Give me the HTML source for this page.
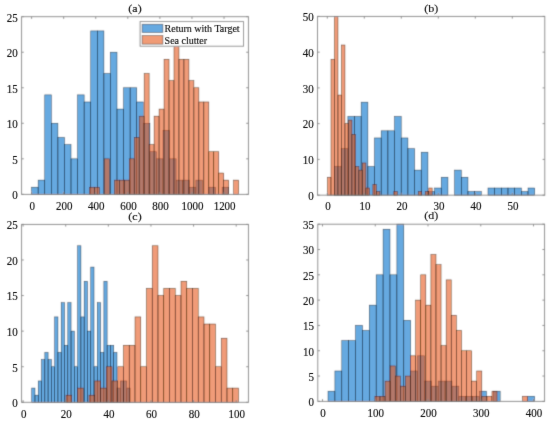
<!DOCTYPE html><html><head><meta charset="utf-8"><style>html,body{margin:0;padding:0;background:#fff;width:550px;height:422px;overflow:hidden}svg{display:block}text{font-family:"Liberation Serif",serif;fill:#111;stroke:#111;stroke-width:0.15}</style></head><body>
<svg width="550" height="422" viewBox="0 0 550 422"><defs><filter id="bl" x="0" y="0" width="550" height="422" filterUnits="userSpaceOnUse"><feConvolveMatrix order="3" kernelMatrix="0.025 0.1 0.025 0.1 0.5 0.1 0.025 0.1 0.025" edgeMode="duplicate" preserveAlpha="false"/></filter><filter id="bt" x="0" y="0" width="550" height="422" filterUnits="userSpaceOnUse"><feConvolveMatrix order="3" kernelMatrix="0.01 0.04 0.01 0.04 0.8 0.04 0.01 0.04 0.01" edgeMode="duplicate" preserveAlpha="false"/></filter></defs><rect width="550" height="422" fill="#fff"/><g filter="url(#bl)">
<g fill="#0070CC" fill-opacity="0.6" stroke="#000" stroke-opacity="0.6" stroke-width="0.6"><rect x="31.6" y="187.24" width="6.57" height="7.11"/><rect x="38.17" y="180.14" width="6.57" height="14.21"/><rect x="44.74" y="94.87" width="6.57" height="99.48"/><rect x="51.31" y="123.29" width="6.57" height="71.06"/><rect x="57.88" y="137.5" width="6.57" height="56.85"/><rect x="64.45" y="144.61" width="6.57" height="49.74"/><rect x="71.02" y="158.82" width="6.57" height="35.53"/><rect x="77.59" y="94.87" width="6.57" height="99.48"/><rect x="84.16" y="101.97" width="6.57" height="92.38"/><rect x="90.73" y="30.91" width="6.57" height="163.44"/><rect x="97.3" y="30.91" width="6.57" height="163.44"/><rect x="103.87" y="73.55" width="6.57" height="120.8"/><rect x="110.44" y="52.23" width="6.57" height="142.12"/><rect x="117.01" y="109.08" width="6.57" height="85.27"/><rect x="123.58" y="87.76" width="6.57" height="106.59"/><rect x="130.15" y="87.76" width="6.57" height="106.59"/><rect x="136.72" y="101.97" width="6.57" height="92.38"/><rect x="143.29" y="123.29" width="6.57" height="71.06"/><rect x="149.86" y="151.71" width="6.57" height="42.64"/><rect x="156.43" y="158.82" width="6.57" height="35.53"/><rect x="163" y="130.4" width="6.57" height="63.95"/><rect x="169.57" y="158.82" width="6.57" height="35.53"/><rect x="176.14" y="180.14" width="6.57" height="14.21"/><rect x="182.71" y="180.14" width="6.57" height="14.21"/><rect x="189.28" y="187.24" width="6.57" height="7.11"/><rect x="195.85" y="180.14" width="6.57" height="14.21"/><rect x="208.99" y="187.24" width="6.57" height="7.11"/><rect x="222.13" y="187.24" width="6.57" height="7.11"/></g>
<g fill="#E6581A" fill-opacity="0.6" stroke="#000" stroke-opacity="0.6" stroke-width="0.6"><rect x="89.5" y="187.24" width="4.97" height="7.11"/><rect x="94.47" y="187.24" width="4.97" height="7.11"/><rect x="104.41" y="158.82" width="4.97" height="35.53"/><rect x="114.35" y="180.14" width="4.97" height="14.21"/><rect x="119.32" y="180.14" width="4.97" height="14.21"/><rect x="124.29" y="180.14" width="4.97" height="14.21"/><rect x="129.26" y="158.82" width="4.97" height="35.53"/><rect x="134.23" y="137.5" width="4.97" height="56.85"/><rect x="139.2" y="116.18" width="4.97" height="78.17"/><rect x="144.17" y="73.55" width="4.97" height="120.8"/><rect x="149.14" y="144.61" width="4.97" height="49.74"/><rect x="154.11" y="116.18" width="4.97" height="78.17"/><rect x="159.08" y="109.08" width="4.97" height="85.27"/><rect x="164.05" y="59.34" width="4.97" height="135.01"/><rect x="169.02" y="80.65" width="4.97" height="113.7"/><rect x="173.99" y="45.12" width="4.97" height="149.23"/><rect x="178.96" y="59.34" width="4.97" height="135.01"/><rect x="183.93" y="59.34" width="4.97" height="135.01"/><rect x="188.9" y="80.65" width="4.97" height="113.7"/><rect x="193.87" y="87.76" width="4.97" height="106.59"/><rect x="198.84" y="101.97" width="4.97" height="92.38"/><rect x="203.81" y="101.97" width="4.97" height="92.38"/><rect x="208.78" y="151.71" width="4.97" height="42.64"/><rect x="213.75" y="151.71" width="4.97" height="42.64"/><rect x="218.72" y="173.03" width="4.97" height="21.32"/><rect x="223.69" y="180.14" width="4.97" height="14.21"/><rect x="233.63" y="180.14" width="4.97" height="14.21"/></g>
<rect x="21.6" y="16.7" width="226.8" height="177.65" fill="none" stroke="#888" stroke-width="0.9"/>
<path d="M31.6 194.35v-2.2M31.6 16.7v2.2M63.67 194.35v-2.2M63.67 16.7v2.2M95.74 194.35v-2.2M95.74 16.7v2.2M127.81 194.35v-2.2M127.81 16.7v2.2M159.88 194.35v-2.2M159.88 16.7v2.2M191.95 194.35v-2.2M191.95 16.7v2.2M224.02 194.35v-2.2M224.02 16.7v2.2M21.6 194.35h2.2M248.4 194.35h-2.2M21.6 158.82h2.2M248.4 158.82h-2.2M21.6 123.29h2.2M248.4 123.29h-2.2M21.6 87.76h2.2M248.4 87.76h-2.2M21.6 52.23h2.2M248.4 52.23h-2.2M21.6 16.7h2.2M248.4 16.7h-2.2" stroke="#888" stroke-width="0.9" fill="none"/>
<g fill="#0070CC" fill-opacity="0.6" stroke="#000" stroke-opacity="0.6" stroke-width="0.6"><rect x="334.5" y="166.55" width="6.67" height="28.6"/><rect x="341.17" y="148.68" width="6.67" height="46.48"/><rect x="347.85" y="116.5" width="6.67" height="78.65"/><rect x="354.52" y="116.5" width="6.67" height="78.65"/><rect x="361.19" y="102.2" width="6.67" height="92.95"/><rect x="367.87" y="166.55" width="6.67" height="28.6"/><rect x="374.54" y="137.95" width="6.67" height="57.2"/><rect x="381.21" y="130.8" width="6.67" height="64.35"/><rect x="387.88" y="130.8" width="6.67" height="64.35"/><rect x="394.56" y="116.5" width="6.67" height="78.65"/><rect x="401.23" y="137.95" width="6.67" height="57.2"/><rect x="407.9" y="148.68" width="6.67" height="46.48"/><rect x="414.58" y="170.12" width="6.67" height="25.03"/><rect x="421.25" y="152.25" width="6.67" height="42.9"/><rect x="427.92" y="191.58" width="6.67" height="3.58"/><rect x="434.6" y="188" width="6.67" height="7.15"/><rect x="441.27" y="177.28" width="6.67" height="17.88"/><rect x="454.61" y="170.12" width="6.67" height="25.03"/><rect x="461.29" y="177.28" width="6.67" height="17.88"/><rect x="467.96" y="191.58" width="6.67" height="3.58"/><rect x="474.63" y="191.58" width="6.67" height="3.58"/><rect x="487.98" y="188" width="6.67" height="7.15"/><rect x="494.65" y="188" width="6.67" height="7.15"/><rect x="501.32" y="188" width="6.67" height="7.15"/><rect x="508" y="188" width="6.67" height="7.15"/><rect x="514.67" y="188" width="6.67" height="7.15"/><rect x="521.34" y="191.58" width="6.67" height="3.58"/><rect x="528.02" y="188" width="6.67" height="7.15"/></g>
<g fill="#E6581A" fill-opacity="0.6" stroke="#000" stroke-opacity="0.6" stroke-width="0.6"><rect x="327.5" y="177.28" width="3.49" height="17.88"/><rect x="330.99" y="59.3" width="3.49" height="135.85"/><rect x="334.48" y="16.4" width="3.49" height="178.75"/><rect x="337.97" y="95.05" width="3.49" height="100.1"/><rect x="341.46" y="45" width="3.49" height="150.15"/><rect x="344.95" y="123.65" width="3.49" height="71.5"/><rect x="348.44" y="120.08" width="3.49" height="75.08"/><rect x="351.93" y="134.38" width="3.49" height="60.78"/><rect x="355.42" y="166.55" width="3.49" height="28.6"/><rect x="358.91" y="170.12" width="3.49" height="25.03"/><rect x="362.4" y="162.97" width="3.49" height="32.18"/><rect x="365.89" y="188" width="3.49" height="7.15"/><rect x="372.87" y="184.43" width="3.49" height="10.73"/><rect x="376.36" y="191.58" width="3.49" height="3.58"/><rect x="393.81" y="191.58" width="3.49" height="3.58"/><rect x="418.24" y="191.58" width="3.49" height="3.58"/><rect x="425.22" y="191.58" width="3.49" height="3.58"/><rect x="428.71" y="188" width="3.49" height="7.15"/></g>
<rect x="317.5" y="16.4" width="227.3" height="178.75" fill="none" stroke="#888" stroke-width="0.9"/>
<path d="M327.3 195.15v-2.2M327.3 16.4v2.2M364.3 195.15v-2.2M364.3 16.4v2.2M401.3 195.15v-2.2M401.3 16.4v2.2M438.3 195.15v-2.2M438.3 16.4v2.2M475.3 195.15v-2.2M475.3 16.4v2.2M512.3 195.15v-2.2M512.3 16.4v2.2M317.5 195.15h2.2M544.8 195.15h-2.2M317.5 159.4h2.2M544.8 159.4h-2.2M317.5 123.65h2.2M544.8 123.65h-2.2M317.5 87.9h2.2M544.8 87.9h-2.2M317.5 52.15h2.2M544.8 52.15h-2.2M317.5 16.4h2.2M544.8 16.4h-2.2" stroke="#888" stroke-width="0.9" fill="none"/>
<g fill="#0070CC" fill-opacity="0.6" stroke="#000" stroke-opacity="0.6" stroke-width="0.6"><rect x="31.7" y="388.07" width="3.28" height="14.23"/><rect x="34.98" y="395.18" width="3.28" height="7.12"/><rect x="38.26" y="380.95" width="3.28" height="21.35"/><rect x="41.54" y="359.6" width="3.28" height="42.7"/><rect x="44.82" y="352.49" width="3.28" height="49.81"/><rect x="48.1" y="359.6" width="3.28" height="42.7"/><rect x="51.38" y="366.72" width="3.28" height="35.58"/><rect x="54.66" y="316.91" width="3.28" height="85.39"/><rect x="57.94" y="352.49" width="3.28" height="49.81"/><rect x="61.22" y="302.68" width="3.28" height="99.62"/><rect x="64.5" y="345.37" width="3.28" height="56.93"/><rect x="67.78" y="302.68" width="3.28" height="99.62"/><rect x="71.06" y="331.14" width="3.28" height="71.16"/><rect x="74.34" y="366.72" width="3.28" height="35.58"/><rect x="77.62" y="245.75" width="3.28" height="156.55"/><rect x="80.9" y="316.91" width="3.28" height="85.39"/><rect x="84.18" y="281.33" width="3.28" height="120.97"/><rect x="87.46" y="331.14" width="3.28" height="71.16"/><rect x="90.74" y="267.1" width="3.28" height="135.2"/><rect x="94.02" y="366.72" width="3.28" height="35.58"/><rect x="97.3" y="302.68" width="3.28" height="99.62"/><rect x="100.58" y="352.49" width="3.28" height="49.81"/><rect x="103.86" y="281.33" width="3.28" height="120.97"/><rect x="107.14" y="345.37" width="3.28" height="56.93"/><rect x="110.42" y="345.37" width="3.28" height="56.93"/><rect x="113.7" y="352.49" width="3.28" height="49.81"/><rect x="116.98" y="388.07" width="3.28" height="14.23"/><rect x="120.26" y="380.95" width="3.28" height="21.35"/><rect x="123.54" y="380.95" width="3.28" height="21.35"/><rect x="126.82" y="388.07" width="3.28" height="14.23"/></g>
<g fill="#E6581A" fill-opacity="0.6" stroke="#000" stroke-opacity="0.6" stroke-width="0.6"><rect x="66" y="395.18" width="5.75" height="7.12"/><rect x="77.5" y="388.07" width="5.75" height="14.23"/><rect x="89" y="395.18" width="5.75" height="7.12"/><rect x="94.75" y="380.95" width="5.75" height="21.35"/><rect x="100.5" y="388.07" width="5.75" height="14.23"/><rect x="106.25" y="366.72" width="5.75" height="35.58"/><rect x="112" y="380.95" width="5.75" height="21.35"/><rect x="117.75" y="366.72" width="5.75" height="35.58"/><rect x="123.5" y="345.37" width="5.75" height="56.93"/><rect x="129.25" y="345.37" width="5.75" height="56.93"/><rect x="135" y="316.91" width="5.75" height="85.39"/><rect x="140.75" y="366.72" width="5.75" height="35.58"/><rect x="146.5" y="288.44" width="5.75" height="113.86"/><rect x="152.25" y="245.75" width="5.75" height="156.55"/><rect x="158" y="295.56" width="5.75" height="106.74"/><rect x="163.75" y="288.44" width="5.75" height="113.86"/><rect x="169.5" y="288.44" width="5.75" height="113.86"/><rect x="175.25" y="295.56" width="5.75" height="106.74"/><rect x="181" y="281.33" width="5.75" height="120.97"/><rect x="186.75" y="288.44" width="5.75" height="113.86"/><rect x="192.5" y="288.44" width="5.75" height="113.86"/><rect x="198.25" y="316.91" width="5.75" height="85.39"/><rect x="204" y="324.02" width="5.75" height="78.28"/><rect x="209.75" y="324.02" width="5.75" height="78.28"/><rect x="215.5" y="366.72" width="5.75" height="35.58"/><rect x="221.25" y="338.26" width="5.75" height="64.04"/><rect x="227" y="388.07" width="5.75" height="14.23"/><rect x="232.75" y="388.07" width="5.75" height="14.23"/></g>
<rect x="21.6" y="224.4" width="226.8" height="177.9" fill="none" stroke="#888" stroke-width="0.9"/>
<path d="M23.1 402.3v-2.2M23.1 224.4v2.2M65.72 402.3v-2.2M65.72 224.4v2.2M108.34 402.3v-2.2M108.34 224.4v2.2M150.96 402.3v-2.2M150.96 224.4v2.2M193.58 402.3v-2.2M193.58 224.4v2.2M236.2 402.3v-2.2M236.2 224.4v2.2M21.6 402.3h2.2M248.4 402.3h-2.2M21.6 366.72h2.2M248.4 366.72h-2.2M21.6 331.14h2.2M248.4 331.14h-2.2M21.6 295.56h2.2M248.4 295.56h-2.2M21.6 259.98h2.2M248.4 259.98h-2.2M21.6 224.4h2.2M248.4 224.4h-2.2" stroke="#888" stroke-width="0.9" fill="none"/>
<g fill="#0070CC" fill-opacity="0.6" stroke="#000" stroke-opacity="0.6" stroke-width="0.6"><rect x="328" y="391.23" width="6.89" height="10.12"/><rect x="334.89" y="370.98" width="6.89" height="30.37"/><rect x="341.77" y="340.61" width="6.89" height="60.74"/><rect x="348.66" y="340.61" width="6.89" height="60.74"/><rect x="355.55" y="325.43" width="6.89" height="75.92"/><rect x="362.44" y="330.49" width="6.89" height="70.86"/><rect x="369.32" y="305.18" width="6.89" height="96.17"/><rect x="376.21" y="274.81" width="6.89" height="126.54"/><rect x="383.1" y="229.26" width="6.89" height="172.09"/><rect x="389.98" y="274.81" width="6.89" height="126.54"/><rect x="396.87" y="224.2" width="6.89" height="177.15"/><rect x="403.76" y="320.37" width="6.89" height="80.98"/><rect x="410.64" y="370.98" width="6.89" height="30.37"/><rect x="417.53" y="355.8" width="6.89" height="45.55"/><rect x="424.42" y="381.1" width="6.89" height="20.25"/><rect x="431.31" y="386.17" width="6.89" height="15.18"/><rect x="438.19" y="381.1" width="6.89" height="20.25"/><rect x="445.08" y="381.1" width="6.89" height="20.25"/><rect x="451.97" y="386.17" width="6.89" height="15.18"/><rect x="458.85" y="396.29" width="6.89" height="5.06"/><rect x="465.74" y="396.29" width="6.89" height="5.06"/><rect x="472.63" y="396.29" width="6.89" height="5.06"/><rect x="479.51" y="391.23" width="6.89" height="10.12"/><rect x="493.29" y="391.23" width="6.89" height="10.12"/><rect x="527.72" y="396.29" width="6.89" height="5.06"/></g>
<g fill="#E6581A" fill-opacity="0.6" stroke="#000" stroke-opacity="0.6" stroke-width="0.6"><rect x="374.9" y="396.29" width="5.09" height="5.06"/><rect x="379.99" y="396.29" width="5.09" height="5.06"/><rect x="385.08" y="381.1" width="5.09" height="20.25"/><rect x="390.17" y="365.92" width="5.09" height="35.43"/><rect x="395.26" y="376.04" width="5.09" height="25.31"/><rect x="400.35" y="386.17" width="5.09" height="15.18"/><rect x="405.44" y="376.04" width="5.09" height="25.31"/><rect x="410.53" y="355.8" width="5.09" height="45.55"/><rect x="415.62" y="300.12" width="5.09" height="101.23"/><rect x="420.71" y="274.81" width="5.09" height="126.54"/><rect x="425.8" y="305.18" width="5.09" height="96.17"/><rect x="430.89" y="254.57" width="5.09" height="146.78"/><rect x="435.98" y="264.69" width="5.09" height="136.66"/><rect x="441.07" y="345.67" width="5.09" height="55.68"/><rect x="446.16" y="279.88" width="5.09" height="121.47"/><rect x="451.25" y="315.31" width="5.09" height="86.04"/><rect x="456.34" y="330.49" width="5.09" height="70.86"/><rect x="461.43" y="350.74" width="5.09" height="50.61"/><rect x="466.52" y="350.74" width="5.09" height="50.61"/><rect x="471.61" y="381.1" width="5.09" height="20.25"/><rect x="476.7" y="370.98" width="5.09" height="30.37"/><rect x="481.79" y="396.29" width="5.09" height="5.06"/><rect x="486.88" y="396.29" width="5.09" height="5.06"/><rect x="491.97" y="391.23" width="5.09" height="10.12"/><rect x="522.51" y="396.29" width="5.09" height="5.06"/></g>
<rect x="317.8" y="224.2" width="226.8" height="177.15" fill="none" stroke="#888" stroke-width="0.9"/>
<path d="M322.5 401.35v-2.2M322.5 224.2v2.2M375.25 401.35v-2.2M375.25 224.2v2.2M428 401.35v-2.2M428 224.2v2.2M480.75 401.35v-2.2M480.75 224.2v2.2M533.5 401.35v-2.2M533.5 224.2v2.2M317.8 401.35h2.2M544.6 401.35h-2.2M317.8 376.04h2.2M544.6 376.04h-2.2M317.8 350.74h2.2M544.6 350.74h-2.2M317.8 325.43h2.2M544.6 325.43h-2.2M317.8 300.12h2.2M544.6 300.12h-2.2M317.8 274.81h2.2M544.6 274.81h-2.2M317.8 249.51h2.2M544.6 249.51h-2.2M317.8 224.2h2.2M544.6 224.2h-2.2" stroke="#888" stroke-width="0.9" fill="none"/>
<rect x="140.1" y="21.6" width="103.4" height="24.6" fill="#fff" stroke="#888" stroke-width="0.9"/>
<rect x="142.1" y="24.2" width="20.8" height="8.3" fill="#0070CC" fill-opacity="0.6" stroke="#000" stroke-opacity="0.6" stroke-width="0.6"/>
<rect x="142.1" y="35.6" width="20.8" height="8.5" fill="#E6581A" fill-opacity="0.6" stroke="#000" stroke-opacity="0.6" stroke-width="0.6"/>
</g><g filter="url(#bt)"><text transform="translate(32.2 209.55) scale(1 1.12)" font-size="11" text-anchor="middle">0</text><text transform="translate(64.27 209.55) scale(1 1.12)" font-size="11" text-anchor="middle">200</text><text transform="translate(96.34 209.55) scale(1 1.12)" font-size="11" text-anchor="middle">400</text><text transform="translate(128.41 209.55) scale(1 1.12)" font-size="11" text-anchor="middle">600</text><text transform="translate(160.48 209.55) scale(1 1.12)" font-size="11" text-anchor="middle">800</text><text transform="translate(192.55 209.55) scale(1 1.12)" font-size="11" text-anchor="middle">1000</text><text transform="translate(224.62 209.55) scale(1 1.12)" font-size="11" text-anchor="middle">1200</text><text transform="translate(17.8 199.15) scale(1 1.12)" font-size="11" text-anchor="end">0</text><text transform="translate(17.8 163.62) scale(1 1.12)" font-size="11" text-anchor="end">5</text><text transform="translate(17.8 128.09) scale(1 1.12)" font-size="11" text-anchor="end">10</text><text transform="translate(17.8 92.56) scale(1 1.12)" font-size="11" text-anchor="end">15</text><text transform="translate(17.8 57.03) scale(1 1.12)" font-size="11" text-anchor="end">20</text><text transform="translate(17.8 21.5) scale(1 1.12)" font-size="11" text-anchor="end">25</text><text transform="translate(135 11.8) scale(1 0.88)" font-size="12" text-anchor="middle">(a)</text><text transform="translate(327.9 210.35) scale(1 1.12)" font-size="11" text-anchor="middle">0</text><text transform="translate(364.9 210.35) scale(1 1.12)" font-size="11" text-anchor="middle">10</text><text transform="translate(401.9 210.35) scale(1 1.12)" font-size="11" text-anchor="middle">20</text><text transform="translate(438.9 210.35) scale(1 1.12)" font-size="11" text-anchor="middle">30</text><text transform="translate(475.9 210.35) scale(1 1.12)" font-size="11" text-anchor="middle">40</text><text transform="translate(512.9 210.35) scale(1 1.12)" font-size="11" text-anchor="middle">50</text><text transform="translate(313.7 199.95) scale(1 1.12)" font-size="11" text-anchor="end">0</text><text transform="translate(313.7 164.2) scale(1 1.12)" font-size="11" text-anchor="end">10</text><text transform="translate(313.7 128.45) scale(1 1.12)" font-size="11" text-anchor="end">20</text><text transform="translate(313.7 92.7) scale(1 1.12)" font-size="11" text-anchor="end">30</text><text transform="translate(313.7 56.95) scale(1 1.12)" font-size="11" text-anchor="end">40</text><text transform="translate(313.7 21.2) scale(1 1.12)" font-size="11" text-anchor="end">50</text><text transform="translate(431.15 11.5) scale(1 0.88)" font-size="12" text-anchor="middle">(b)</text><text transform="translate(23.7 417.5) scale(1 1.12)" font-size="11" text-anchor="middle">0</text><text transform="translate(66.32 417.5) scale(1 1.12)" font-size="11" text-anchor="middle">20</text><text transform="translate(108.94 417.5) scale(1 1.12)" font-size="11" text-anchor="middle">40</text><text transform="translate(151.56 417.5) scale(1 1.12)" font-size="11" text-anchor="middle">60</text><text transform="translate(194.18 417.5) scale(1 1.12)" font-size="11" text-anchor="middle">80</text><text transform="translate(236.8 417.5) scale(1 1.12)" font-size="11" text-anchor="middle">100</text><text transform="translate(17.8 407.1) scale(1 1.12)" font-size="11" text-anchor="end">0</text><text transform="translate(17.8 371.52) scale(1 1.12)" font-size="11" text-anchor="end">5</text><text transform="translate(17.8 335.94) scale(1 1.12)" font-size="11" text-anchor="end">10</text><text transform="translate(17.8 300.36) scale(1 1.12)" font-size="11" text-anchor="end">15</text><text transform="translate(17.8 264.78) scale(1 1.12)" font-size="11" text-anchor="end">20</text><text transform="translate(17.8 229.2) scale(1 1.12)" font-size="11" text-anchor="end">25</text><text transform="translate(135 219.5) scale(1 0.88)" font-size="12" text-anchor="middle">(c)</text><text transform="translate(323.1 416.55) scale(1 1.12)" font-size="11" text-anchor="middle">0</text><text transform="translate(375.85 416.55) scale(1 1.12)" font-size="11" text-anchor="middle">100</text><text transform="translate(428.6 416.55) scale(1 1.12)" font-size="11" text-anchor="middle">200</text><text transform="translate(481.35 416.55) scale(1 1.12)" font-size="11" text-anchor="middle">300</text><text transform="translate(534.1 416.55) scale(1 1.12)" font-size="11" text-anchor="middle">400</text><text transform="translate(314 406.15) scale(1 1.12)" font-size="11" text-anchor="end">0</text><text transform="translate(314 380.84) scale(1 1.12)" font-size="11" text-anchor="end">5</text><text transform="translate(314 355.54) scale(1 1.12)" font-size="11" text-anchor="end">10</text><text transform="translate(314 330.23) scale(1 1.12)" font-size="11" text-anchor="end">15</text><text transform="translate(314 304.92) scale(1 1.12)" font-size="11" text-anchor="end">20</text><text transform="translate(314 279.61) scale(1 1.12)" font-size="11" text-anchor="end">25</text><text transform="translate(314 254.31) scale(1 1.12)" font-size="11" text-anchor="end">30</text><text transform="translate(314 229) scale(1 1.12)" font-size="11" text-anchor="end">35</text><text transform="translate(431.2 219.3) scale(1 0.88)" font-size="12" text-anchor="middle">(d)</text><text transform="translate(164.6 31.9) scale(1 1.0)" font-size="10.0" text-anchor="start" stroke-width="0.3">Return with Target</text><text transform="translate(164.6 43.5) scale(1 1.0)" font-size="10.0" text-anchor="start" stroke-width="0.3">Sea clutter</text></g></svg></body></html>
